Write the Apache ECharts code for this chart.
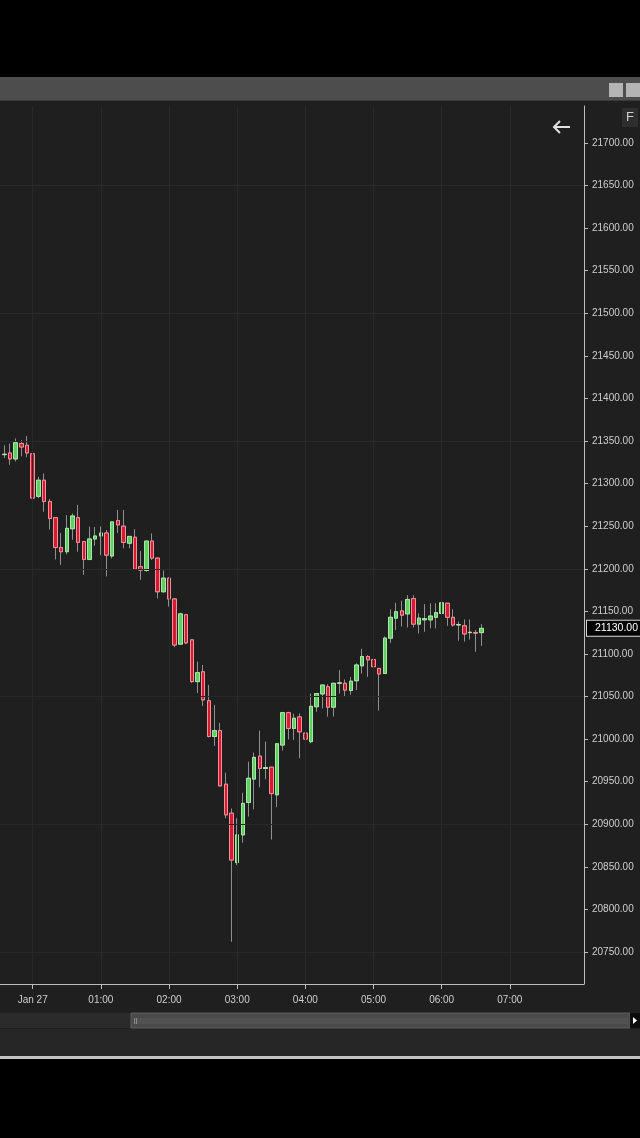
<!DOCTYPE html>
<html>
<head>
<meta charset="utf-8">
<script src="https://cdn.jsdelivr.net/npm/echarts@6/dist/echarts.min.js"></script>
<style>
html,body{margin:0;padding:0;background:#000;}
#c{width:640px;height:1138px;}
</style>
</head>
<body>
<div id="c"></div>
<script>
// 5-minute bars, Jan 26 23:35 -> Jan 27 06:35
const times = ['23:35','23:40','23:45','23:50','23:55',
 '00:00','00:05','00:10','00:15','00:20','00:25','00:30','00:35','00:40','00:45','00:50','00:55',
 '01:00','01:05','01:10','01:15','01:20','01:25','01:30','01:35','01:40','01:45','01:50','01:55',
 '02:00','02:05','02:10','02:15','02:20','02:25','02:30','02:35','02:40','02:45','02:50','02:55',
 '03:00','03:05','03:10','03:15','03:20','03:25','03:30','03:35','03:40','03:45','03:50','03:55',
 '04:00','04:05','04:10','04:15','04:20','04:25','04:30','04:35','04:40','04:45','04:50','04:55',
 '05:00','05:05','05:10','05:15','05:20','05:25','05:30','05:35','05:40','05:45','05:50','05:55',
 '06:00','06:05','06:10','06:15','06:20','06:25','06:30','06:35'];

const openV = [21334,21336,21329,21347,21345,
 21335,21285,21304,21279,21260,21225,21220,21247,21260,21232,21211,21235,
 21238.5,21242,21215,21256.5,21250,21230,21237,21202.5,21198,21232.5,21212.5,21173,
 21189,21164.5,21111.5,21146,21116.5,21067.5,21079,21045,21003,21010,20947,20913,
 20855,20887.5,20925.5,20953,20980,20965.5,20967,20934.5,20993,21031,21012.5,21026,
 21007,20997,21038,21053,21061.5,21037.5,21065.5,21065.5,21057,21068.5,21086,21097,
 21093.5,21083,21077,21118.5,21142,21150.5,21147,21165,21135,21140,21140,21143,
 21147.5,21159.5,21143,21134,21133,21125,21125,21125];

const closeV = [21334.5,21329,21348,21343,21336,
 21283,21304,21279,21259,21225,21220,21247.5,21262,21231,21211,21235,21238.5,
 21242,21216,21255,21251.5,21231,21238,21199.5,21198.5,21232.5,21212.5,21173,21189,
 21164.5,21110.5,21147,21113,21067.5,21078,21046,21003,21010,20945,20911,20858,
 20887.5,20924.5,20954,20978.5,20965.5,20966.5,20936,20994.5,21031,21012.5,21024.5,21008.5,
 21000,21038.5,21053.5,21063.5,21037.5,21065.5,21066,21057.5,21068,21087,21097,21093,
 21085,21076.5,21118.5,21143,21149.5,21145.5,21164,21135,21142,21141.5,21144.5,21148.5,
 21160,21143,21134,21134.5,21123.5,21125.5,21124.5,21130];

const lowV = [21330,21322,21326,21332,21331,
 21283,21283,21267,21246,21211,21204.5,21217,21234,21220,21193,21210,21227,
 21216,21191,21212,21242,21224,21224,21198.5,21187,21196.5,21210.5,21165,21172,
 21155.5,21108,21111.5,21111.5,21066,21054,21039,21002,20992,20945,20907,20762,
 20852,20878.5,20909,20917.5,20943.5,20953,20882,20920,20986.5,20999.5,20999,20977.5,
 20971,20995,21032,21036,21026.5,21026.5,21053.5,21050,21052,21057.5,21077,21073,
 21065.5,21033.5,21076.5,21113,21128,21132,21131,21131,21124,21126,21130,21130,
 21147.5,21133,21132,21115.5,21114.5,21117,21102.5,21109.5];

const highV = [21345,21347,21353,21351,21356,
 21336,21308,21312,21282,21260.5,21242,21263,21265,21275,21232,21249.5,21249,
 21249.5,21245.5,21255.5,21269,21269,21238.5,21246.5,21221,21233,21241.5,21213.5,21198,
 21190,21165.5,21148.5,21146,21117,21091,21087,21063.5,21040,21019,20960.5,20918.5,
 20907,20937,20973.5,20984,21010,20997,20967,20995,21032,21032,21030,21030,
 21011.5,21053.5,21054,21063.5,21064.5,21066,21081,21070,21073,21089,21106,21098.5,
 21097.5,21083,21120.5,21152.5,21160,21162.5,21169,21169,21147.5,21158.5,21159.5,21159.5,
 21174.5,21159.5,21152.5,21138,21140.5,21140.5,21128,21135];

const xTickValues = [0,60,120,180,240,300,360,420];
const xTickLabels = ['Jan 27','01:00','02:00','03:00','04:00','05:00','06:00','07:00'];
const yTickValues = [20750,20800,20850,20900,20950,21000,21050,21100,21150,21200,21250,21300,21350,21400,21450,21500,21550,21600,21650,21700];
const yGridValues = [20750,20900,21050,21200,21350,21500,21650];
const lastPrice = 21130;

function toMin(s){ const p=s.split(':'); let m=(+p[0])*60+(+p[1]); if(m>=720) m-=1440; return m; }
const xs = times.map(toMin);
const candleData = xs.map((x,i)=>[x, openV[i], closeV[i], lowV[i], highV[i]]);
const bodyData = xs.map((x,i)=>[x, openV[i], closeV[i], Math.min(openV[i],closeV[i]), Math.max(openV[i],closeV[i])]);

const FONT = 'Liberation Sans';
const chart = echarts.init(document.getElementById('c'), null, {renderer:'canvas'});
chart.setOption({
  animation:false,
  backgroundColor:'#1f1f1f',
  grid:{left:0,right:56,top:106,bottom:154},
  xAxis:{
    type:'value', min:-28.8, max:485.3,
    axisLine:{show:true,onZero:false,lineStyle:{color:'#bdbdbd',width:1}},
    axisTick:{show:true,length:5,lineStyle:{color:'#bdbdbd'},customValues:xTickValues},
    axisLabel:{color:'#cfcfcf',fontFamily:FONT,fontSize:10,margin:11,customValues:xTickValues,
      formatter:v=>{const i=xTickValues.indexOf(v);return i>=0?xTickLabels[i]:'';}},
    splitLine:{show:false}
  },
  yAxis:{
    type:'value', position:'right', min:20712.4, max:21743.4, scale:true,
    axisLine:{show:true,onZero:false,lineStyle:{color:'#bdbdbd',width:1}},
    axisTick:{show:true,length:4,lineStyle:{color:'#bdbdbd'},customValues:yTickValues},
    axisLabel:{color:'#cfcfcf',fontFamily:FONT,fontSize:10,margin:8,customValues:yTickValues,
      formatter:v=>v.toFixed(2)},
    splitLine:{show:false}
  },
  series:[
    {
      type:'line', data:[], z:0, silent:true,
      markLine:{silent:true, symbol:['none','none'], label:{show:false},
        lineStyle:{color:'#292929',width:1,type:'solid'},
        emphasis:{disabled:true},
        data:yGridValues.map(v=>({yAxis:v})).concat(xTickValues.map(v=>({xAxis:v})))}
    },
    {
      type:'candlestick', name:'wick', z:2, silent:true,
      dimensions:['t','open','close','lowest','highest'],
      encode:{x:0,y:[1,2,3,4]},
      barWidth:4,
      data:candleData,
      itemStyle:{color:'#8f8f8f',color0:'#8f8f8f',borderColor:'#8f8f8f',borderColor0:'#8f8f8f',borderColorDoji:'#9a9a9a',borderWidth:1}
    },
    {
      type:'candlestick', name:'body', z:3, silent:true,
      dimensions:['t','open','close','lowest','highest'],
      encode:{x:0,y:[1,2,3,4]},
      barWidth:4,
      data:bodyData,
      itemStyle:{color:'#5fcf5f',color0:'#d71a2f',borderColor:'#a8e8a8',borderColor0:'#f0909b',borderColorDoji:'#b0b0b0',borderWidth:1}
    },
    {
      type:'line', data:[], z:5, silent:true,
      markLine:{silent:true, symbol:['none','none'], clip:false,
        lineStyle:{color:'rgba(0,0,0,0)',width:1},
        emphasis:{disabled:true},
        label:{show:true,position:'end',distance:3,formatter:p=>Number(p.value).toFixed(2),
          color:'#ffffff',fontFamily:FONT,fontSize:10.5,backgroundColor:'#050505',
          borderColor:'#d8d8d8',borderWidth:1,padding:[2,4,2,8]},
        data:[{yAxis:lastPrice}]}
    }
  ],
  graphic:[
    {type:'rect',z:100,shape:{x:0,y:0,width:640,height:77},style:{fill:'#000'}},
    {type:'rect',z:100,shape:{x:0,y:77,width:640,height:23},style:{fill:'#4d4d4d'}},
    {type:'rect',z:101,shape:{x:609,y:83,width:14,height:14},style:{fill:'#b4b4b4'}},
    {type:'rect',z:101,shape:{x:626,y:83,width:14,height:14},style:{fill:'#b4b4b4'}},
    {type:'rect',z:100,shape:{x:0,y:100,width:640,height:1},style:{fill:'#3a3a3a'}},
    {type:'rect',z:100,shape:{x:622,y:108,width:16,height:19},style:{fill:'#2e2e2e'}},
    {type:'text',z:101,x:630,y:117.5,style:{text:'F',fill:'#cfcfcf',font:'13px Liberation Sans',align:'center',verticalAlign:'middle'}},
    {type:'polyline',z:101,shape:{points:[[554,127],[570,127]]},style:{stroke:'#e2e2e2',lineWidth:2,fill:null}},
    {type:'polyline',z:101,shape:{points:[[560,121],[554,127],[560,133]]},style:{stroke:'#e2e2e2',lineWidth:2,fill:null}},
    {type:'rect',z:100,shape:{x:0,y:1013,width:131,height:15},style:{fill:'#2b2b2b'}},
    {type:'rect',z:100,shape:{x:131,y:1013,width:499,height:15},style:{fill:'#4a4a4a',stroke:'#5f5f5f',lineWidth:1}},
    {type:'rect',z:101,shape:{x:134,y:1018,width:494,height:6},style:{fill:'#525252'}},
    {type:'rect',z:101,shape:{x:134,y:1018,width:1,height:6},style:{fill:'#8a8a8a'}},
    {type:'rect',z:101,shape:{x:136,y:1018,width:1,height:6},style:{fill:'#8a8a8a'}},
    {type:'rect',z:100,shape:{x:630,y:1013,width:10,height:15},style:{fill:'#0c0c0c'}},
    {type:'polygon',z:101,shape:{points:[[633,1017],[637,1020.5],[633,1024]]},style:{fill:'#ffffff'}},
    {type:'rect',z:100,shape:{x:0,y:1029,width:640,height:27},style:{fill:'#262626'}},
    {type:'rect',z:100,shape:{x:0,y:1056,width:640,height:3},style:{fill:'#c4c4c4'}},
    {type:'rect',z:100,shape:{x:0,y:1059,width:640,height:79},style:{fill:'#000'}}
  ]
});
</script>
</body>
</html>
